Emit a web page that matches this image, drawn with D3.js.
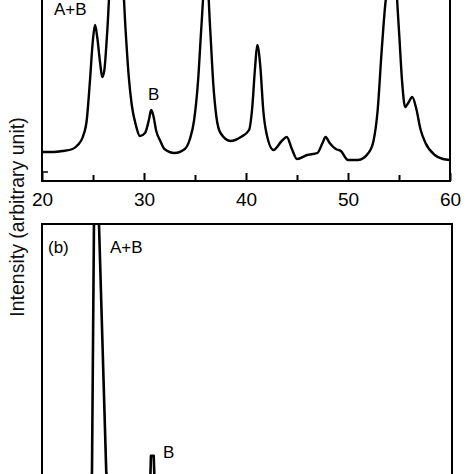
<!DOCTYPE html>
<html><head><meta charset="utf-8">
<script src="https://cdn.jsdelivr.net/npm/d3@7"></script>
<style>body{margin:0;background:#fff}</style></head>
<body><svg id="c" width="474" height="474"></svg>
<script>
// Panel (a) XRD pattern: 2θ (deg) and intensity (arb.)
const thetaA = [20,21,22,23,23.5,24,24.4,24.7,25,25.2,25.4,25.7,25.9,26.1,26.4,26.7,27.3,27.9,28.2,28.5,28.8,29.2,29.6,30.1,30.5,30.7,30.9,31.2,31.6,32,33,34,34.5,34.9,35.3,35.6,36.1,36.5,36.8,37.1,37.5,38.5,39.5,40.3,40.6,40.9,41.1,41.4,41.7,42,42.7,43.5,44,44.5,45,46,47,47.5,47.8,48.2,48.8,49.3,50,51,52,52.5,52.9,53.3,53.7,54.5,55,55.3,55.6,55.9,56.3,56.7,57.1,57.6,58.5,59.3,60];
const intA  = [29,29,30,32,36,44,62,100,142,156,145,118,104,110,150,200,215,200,150,105,76,56,45,48,62,71,66,50,40,32,28,32,42,60,100,150,215,150,96,64,48,40,44,51,72,115,136,115,70,48,31,40,44,32,22,26,28,38,44,38,32,30,21,21,28,40,70,130,181,215,150,100,74,78,84,72,52,38,26,22,21];
// Panel (b)
const thetaB = [20,22,24,24.5,24.9,25.2,26.3,27,28,29,30,30.5,30.62,30.68,30.8,30.95,31.05,31.3,32,35,40,45,50,55,60];
const intB   = [14,14,16,20,26,140,26,18,16,15,16,18,24,31,31,31,22,17,15,14,14,14,14,14,14];
const xTicks = [20,30,40,50,60];

const svg = d3.select("#c");
const x = d3.scaleLinear().domain([20,60]).range([42,450]);
const yA = d3.scaleLinear().domain([0,181]).range([181,0]);
const yB = d3.scaleLinear().domain([0,100]).range([560,224]);
const F = "Liberation Sans, Arial";

svg.append("clipPath").attr("id","ca").append("rect").attr("x",42).attr("y",-10).attr("width",408).attr("height",191);
svg.append("clipPath").attr("id","cb").append("rect").attr("x",42).attr("y",224).attr("width",410).attr("height",300);

svg.append("rect").attr("x",42).attr("y",-5).attr("width",408).attr("height",186)
  .attr("fill","none").attr("stroke","#000").attr("stroke-width",2);
const line = (ys)=>d3.line().curve(d3.curveMonotoneX).x(d=>x(d[0])).y(d=>ys(d[1]));
svg.append("path").datum(thetaA.map((t,i)=>[t,intA[i]])).attr("clip-path","url(#ca)")
  .attr("d",line(yA)).attr("fill","none").attr("stroke","#000").attr("stroke-width",2.4).attr("stroke-linejoin","round");
const ax = d3.axisBottom(x).tickValues(d3.range(20,61,5)).tickSize(-7).tickFormat(d=>xTicks.includes(d)?d:"").tickPadding(12);
const g = svg.append("g").attr("transform","translate(0,181)").call(ax);
g.select(".domain").remove();
g.selectAll(".tick line").attr("stroke-width",2).attr("y2",d=>d%10===0?-8:-6);
g.selectAll("text").attr("font-family",F).attr("font-size",19).attr("fill","#000");
svg.append("line").attr("x1",42).attr("x2",48).attr("y1",172).attr("y2",172).attr("stroke","#000").attr("stroke-width",1.5);

svg.append("text").attr("x",54).attr("y",15).text("A+B").attr("font-family",F).attr("font-size",17);
svg.append("text").attr("x",148).attr("y",100).text("B").attr("font-family",F).attr("font-size",17);

svg.append("rect").attr("x",42).attr("y",224).attr("width",410).attr("height",300)
  .attr("fill","none").attr("stroke","#000").attr("stroke-width",2);
svg.append("path").datum(thetaB.map((t,i)=>[t,intB[i]])).attr("clip-path","url(#cb)")
  .attr("d",d3.line().x(d=>x(d[0])).y(d=>yB(d[1]))).attr("fill","none").attr("stroke","#000").attr("stroke-width",2.6).attr("stroke-linejoin","round");
svg.append("text").attr("x",48).attr("y",253).text("(b)").attr("font-family",F).attr("font-size",17);
svg.append("text").attr("x",110).attr("y",253).text("A+B").attr("font-family",F).attr("font-size",17);
svg.append("text").attr("x",163).attr("y",458).text("B").attr("font-family",F).attr("font-size",17);

svg.append("text").attr("transform","translate(24,217) rotate(-90)").attr("text-anchor","middle")
  .text("Intensity (arbitrary unit)").attr("font-family",F).attr("font-size",19.5).attr("fill","#111");
</script></body></html>
